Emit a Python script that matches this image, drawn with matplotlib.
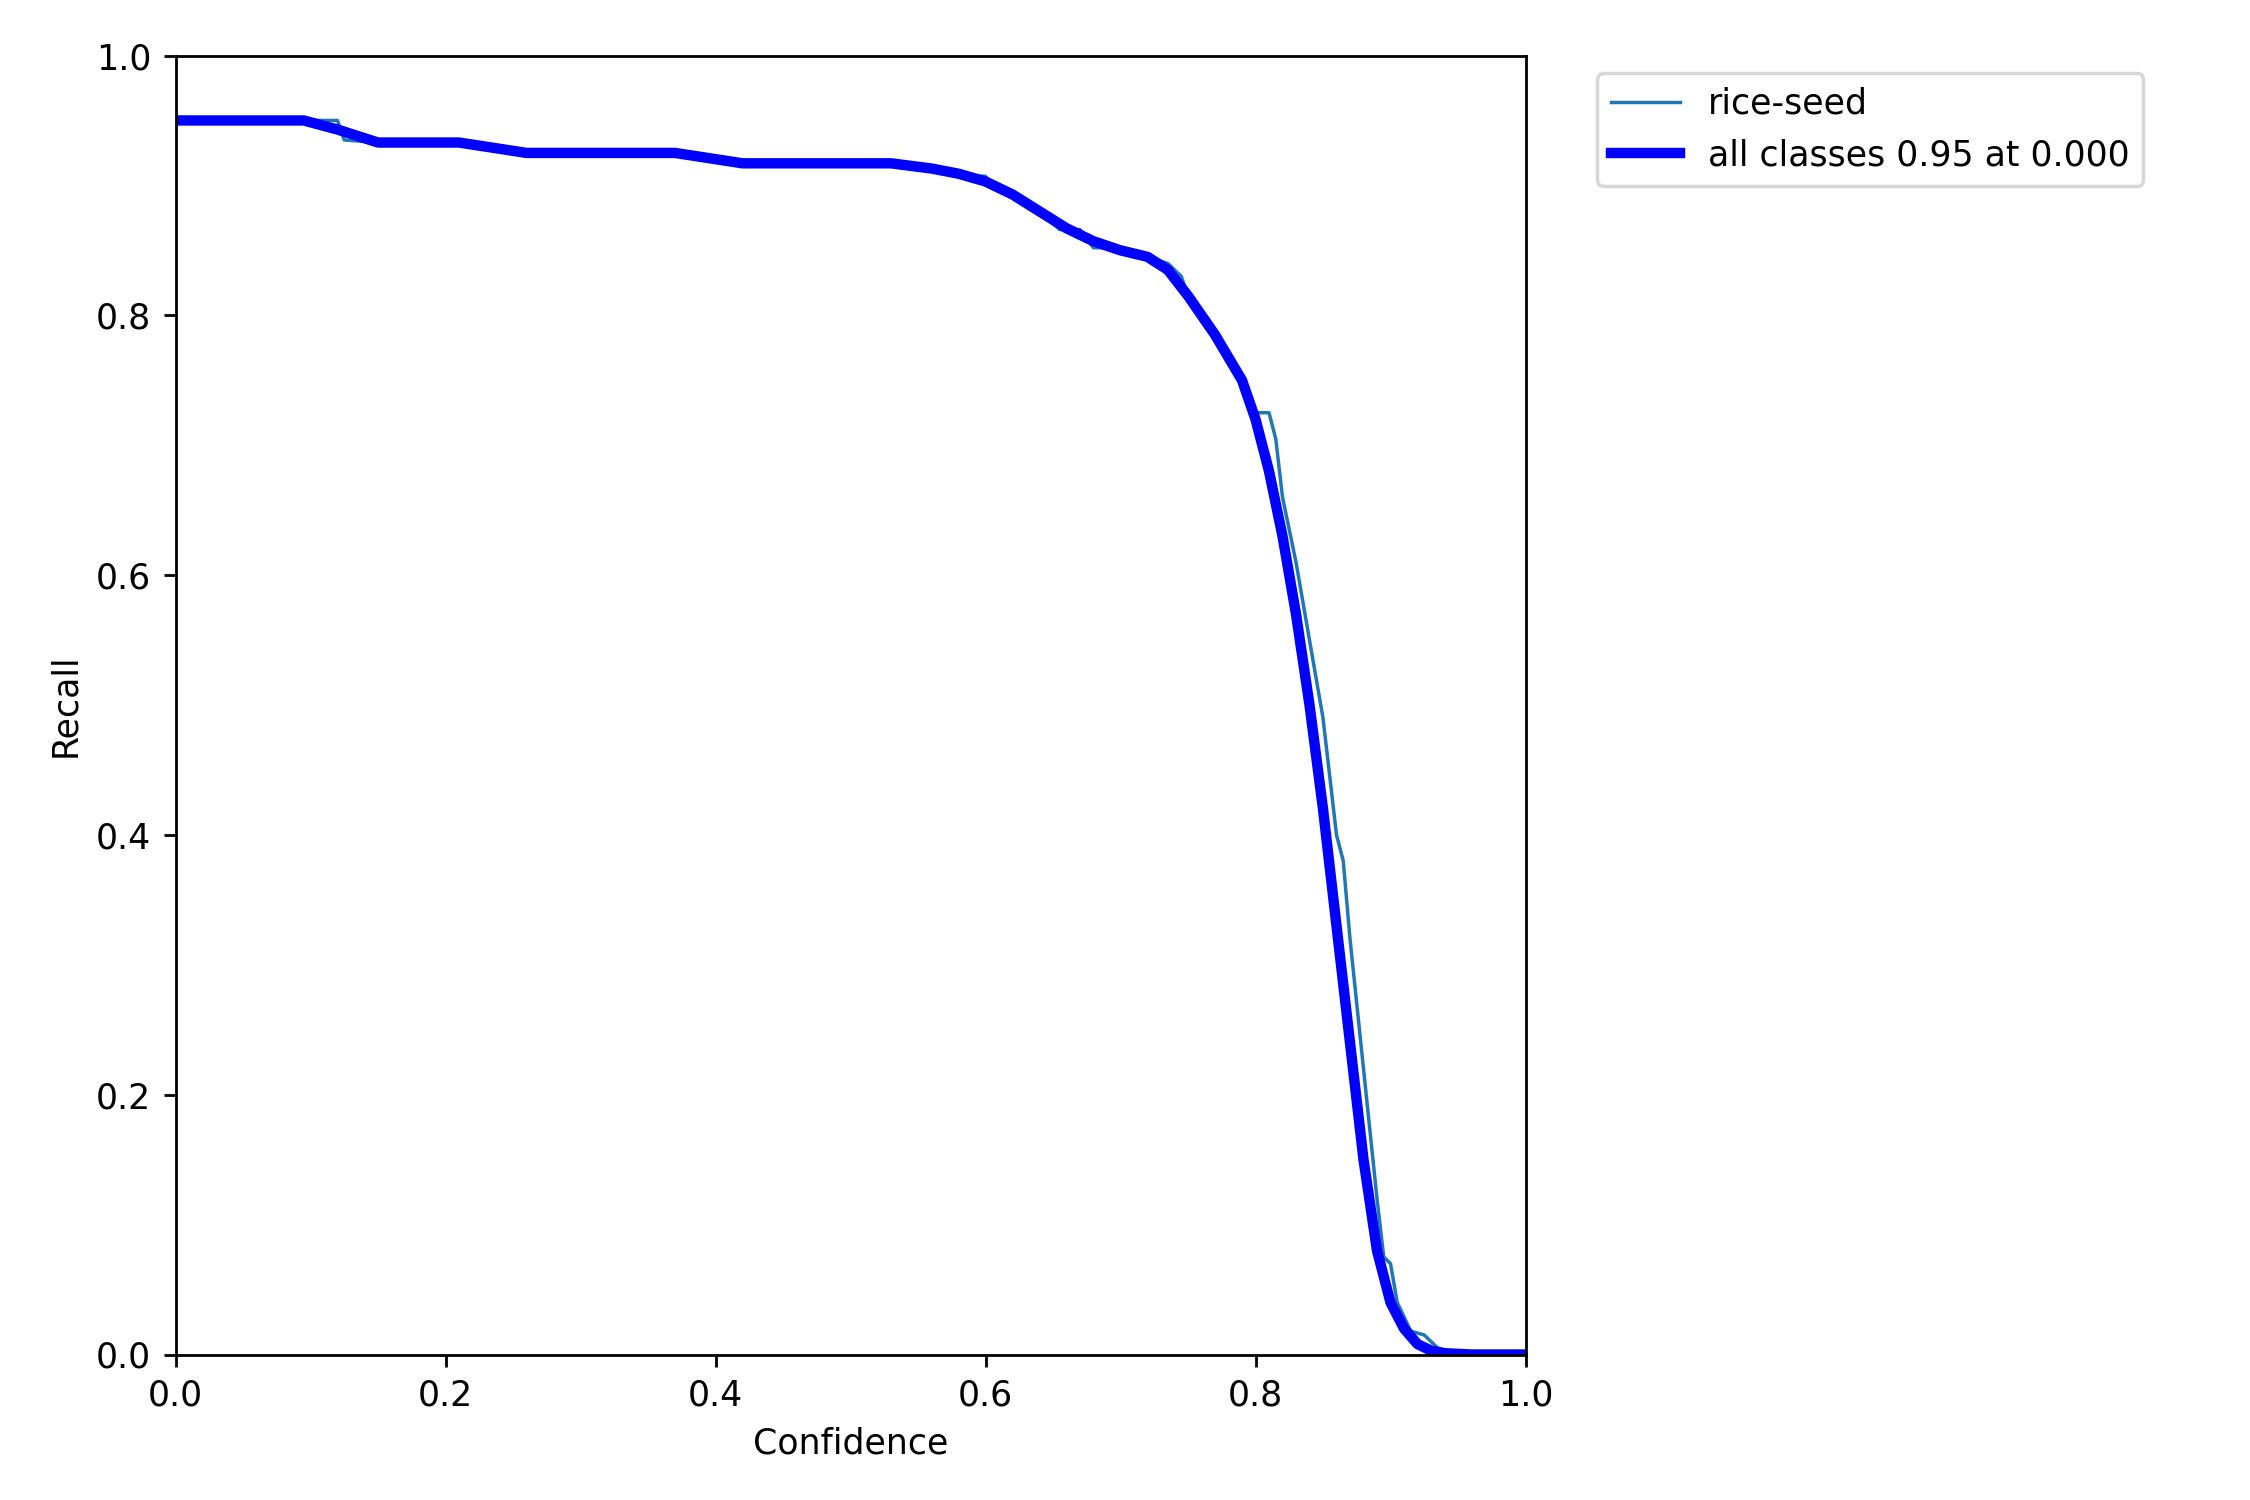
import matplotlib
matplotlib.use("Agg")
import matplotlib.pyplot as plt

cls_x = [0.0, 0.095, 0.12, 0.125, 0.15, 0.21, 0.235, 0.26, 0.37, 0.395, 0.42, 0.53, 0.56, 0.58, 0.6, 0.605, 0.62, 0.64, 0.655, 0.67, 0.68, 0.69, 0.70, 0.72, 0.735, 0.745, 0.75, 0.77, 0.79, 0.80, 0.81, 0.815, 0.82, 0.83, 0.84, 0.85, 0.86, 0.865, 0.87, 0.88, 0.885, 0.89, 0.895, 0.9, 0.905, 0.915, 0.925, 0.935, 0.95, 1.0]
cls_y = [0.95, 0.95, 0.95, 0.935, 0.933, 0.933, 0.928, 0.925, 0.925, 0.92, 0.917, 0.917, 0.912, 0.908, 0.907, 0.9, 0.893, 0.88, 0.866, 0.866, 0.852, 0.852, 0.848, 0.845, 0.84, 0.83, 0.815, 0.785, 0.75, 0.725, 0.725, 0.705, 0.66, 0.61, 0.55, 0.49, 0.4, 0.38, 0.32, 0.22, 0.17, 0.12, 0.075, 0.07, 0.04, 0.018, 0.015, 0.005, 0.0, 0.0]

all_x = [0.0, 0.095, 0.12, 0.15, 0.21, 0.235, 0.26, 0.37, 0.395, 0.42, 0.53, 0.56, 0.58, 0.6, 0.62, 0.64, 0.66, 0.68, 0.70, 0.72, 0.735, 0.75, 0.77, 0.79, 0.80, 0.81, 0.82, 0.83, 0.84, 0.85, 0.86, 0.87, 0.88, 0.89, 0.90, 0.91, 0.92, 0.93, 0.94, 0.96, 1.0]
all_y = [0.95, 0.95, 0.943, 0.933, 0.933, 0.929, 0.925, 0.925, 0.921, 0.917, 0.917, 0.913, 0.909, 0.903, 0.893, 0.88, 0.867, 0.857, 0.85, 0.845, 0.835, 0.815, 0.785, 0.75, 0.72, 0.68, 0.63, 0.57, 0.5, 0.42, 0.33, 0.24, 0.15, 0.08, 0.04, 0.02, 0.008, 0.003, 0.001, 0.0, 0.0]

fig, ax = plt.subplots(figsize=(9, 6), dpi=250)
fig.subplots_adjust(left=0.078, right=0.678, top=0.963, bottom=0.097)
ax.plot(cls_x, cls_y, linewidth=1, color='#1f77b4', label='rice-seed')
ax.plot(all_x, all_y, linewidth=3, color='blue', label='all classes 0.95 at 0.000')
ax.set_xlim(0, 1)
ax.set_ylim(0, 1)
ax.set_xlabel('Confidence')
ax.set_ylabel('Recall')
ax.legend(bbox_to_anchor=(1.04, 1), loc='upper left')
fig.savefig('out.png', dpi=250)
